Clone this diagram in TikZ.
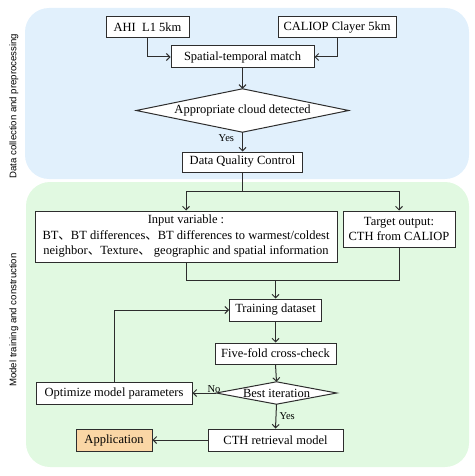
\documentclass[tikz,border=0pt]{standalone}
\usepackage{fontspec}
\setmainfont{Liberation Serif}
\setsansfont{Liberation Sans}
\newfontfamily\cjk{Noto Sans CJK SC}
\usetikzlibrary{arrows.meta,calc}
\definecolor{panelblue}{RGB}{225,240,252}
\definecolor{panelgreen}{RGB}{225,249,225}
\definecolor{apporange}{RGB}{250,214,165}
\definecolor{linegray}{RGB}{45,45,45}
\newcommand{\dun}{{\cjk 、}}
\tikzset{
  box/.style={draw=linegray, line width=1pt, fill=white, rectangle, inner sep=1pt, align=center, font=\fontsize{12.5}{15}\selectfont},
  dia/.style={rectangle, inner sep=0pt, align=center, font=\fontsize{12.5}{15}\selectfont},
  diaout/.style={draw=linegray, line width=1pt, fill=white},
  arr/.style={draw=linegray, line width=1pt, -{Straight Barb[length=3.5pt,width=7pt]}},
  ln/.style={draw=linegray, line width=1pt},
  panel/.style={rounded corners=24pt, draw=none},
  side/.style={rotate=90, font=\sffamily\fontsize{9.6}{11}\selectfont},
  lab/.style={font=\fontsize{10.5}{12}\selectfont, inner sep=1pt}
}
\begin{document}
\begin{tikzpicture}[x=1pt,y=-1pt]
\useasboundingbox (0,0) rectangle (474,476);
% panels
\fill[panel, fill=panelblue] (25,8) rectangle (469,179);
\fill[panel, fill=panelgreen] (26,182) rectangle (469,467);
\node[side] (s1) at (14,106) {Data collection and preprocessing};
\node[side] (s2) at (14,320) {Model training and construction};
% nodes
\node[box, minimum width=83pt, minimum height=21pt] (ahi) at (147.5,27.5) {AHI\ \ L1 5km};
\node[box, minimum width=118pt, minimum height=21pt] (cal) at (337,27.5) {CALIOP Clayer 5km};
\node[box, minimum width=143pt, minimum height=22pt] (stm) at (242.5,57) {Spatial-temporal match};
\node[dia, minimum width=212pt, minimum height=43pt] (acd) at (242.5,110.5) {};
\draw[diaout] (acd.north) -- (acd.east) -- (acd.south) -- (acd.west) -- cycle;
\node[dia] at (acd.center) {Appropriate cloud detected};
\node[box, minimum width=120pt, minimum height=20pt] (dqc) at (242.5,162) {Data Quality Control};
\node[box, minimum width=302pt, minimum height=51pt, font=\fontsize{12.5}{15.5}\selectfont] (inp) at (186,236.5) {Input variable :\\BT\dun BT differences\dun BT differences to warmest/coldest\\neighbor\dun Texture\dun\ geographic and spatial information};
\node[box, minimum width=112pt, minimum height=36pt, font=\fontsize{12.5}{15.5}\selectfont] (tgt) at (399,229) {Target output:\\CTH from CALIOP};
\node[box, minimum width=92pt, minimum height=22pt] (trn) at (275.5,310) {Training dataset};
\node[box, minimum width=121pt, minimum height=21pt] (ffc) at (275.5,353.5) {Five-fold cross-check};
\node[dia, minimum width=120pt, minimum height=22pt] (best) at (276.5,393) {};
\draw[diaout] (best.north) -- (best.east) -- (best.south) -- (best.west) -- cycle;
\node[dia] at (best.center) {Best iteration};
\node[box, minimum width=156pt, minimum height=22pt] (opt) at (114,393) {Optimize model parameters};
\node[box, minimum width=135pt, minimum height=22pt] (cth) at (275.5,440) {CTH retrieval model};
\node[box, minimum width=76pt, minimum height=22pt, fill=apporange] (app) at (114,440) {Application};
% coordinates
\coordinate (split) at (242.5,191);
\coordinate (merge) at (275.5,280);
% connectors
\draw[arr] (ahi.south) |- (stm.west);
\draw[arr] (cal.south) |- (stm.east);
\draw[arr] (stm.south) -- (acd.north);
\draw[arr] (acd.south) -- node[lab, left, pos=0.3, xshift=-7pt] {Yes} (dqc.north);
\draw[ln] (dqc.south) -- (split);
\draw[arr] (split) -| (inp.north);
\draw[arr] (split) -| (tgt.north);
\draw[ln] (inp.south) |- (merge);
\draw[ln] (tgt.south) |- (merge);
\draw[arr] (merge) -- (trn.north);
\draw[arr] (trn.south) -- (ffc.north);
\draw[arr] (ffc.south) -- (best.north);
\draw[arr] (best.west) -- node[lab, above, pos=0.1, yshift=-1pt] {No} (opt.east);
\draw[arr] (opt.north) |- (trn.west);
\draw[arr] (best.south) -- node[lab, right, pos=0.5, xshift=2pt] {Yes} (cth.north);
\draw[arr] (cth.west) -- (app.east);
\end{tikzpicture}
\end{document}
